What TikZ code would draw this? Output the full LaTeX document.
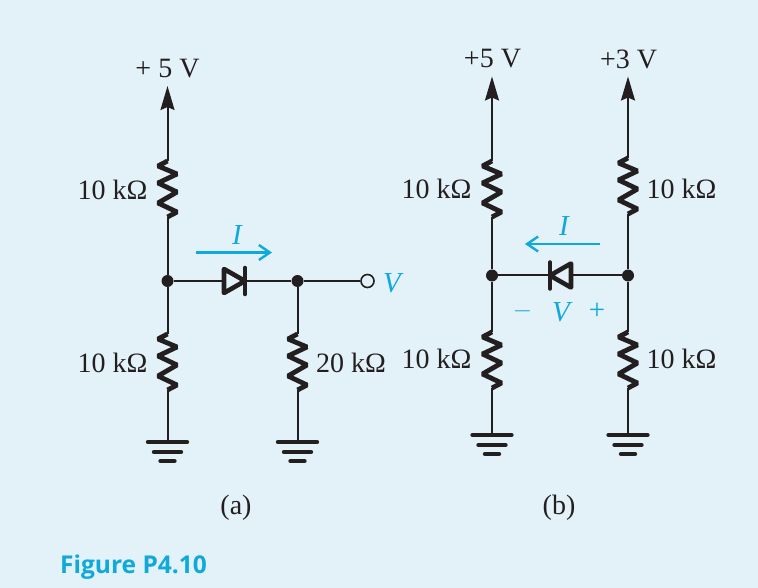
\documentclass[tikz,border=0pt]{standalone}
\usepackage{fontspec}
\setmainfont{Liberation Serif}
\newfontfamily\figfont{Open Sans}
\usetikzlibrary{arrows.meta}
\definecolor{bgblue}{HTML}{E3F2F8}
\definecolor{inkblack}{HTML}{231F20}
\definecolor{cyanlabel}{HTML}{0FA9DC}

\begin{document}
\begin{tikzpicture}[x=1pt, y=-1pt,
        wire/.style={draw=inkblack, line width=2pt},
        supply/.style={wire, -{Stealth[length=24pt, width=14pt, inset=3pt]}},
        dot/.style={circle, fill=inkblack, inner sep=0pt, minimum size=12pt},
        lbl/.style={text=inkblack, font=\fontsize{28}{30}\selectfont, inner sep=0pt},
        bluelbl/.style={text=cyanlabel, font=\fontsize{29}{30}\selectfont\itshape, inner sep=0pt},
        current/.style={draw=cyanlabel, line width=2.4pt, -{Straight Barb[length=11pt, width=15pt, line width=2.4pt]}},
        pics/res/.style={code={
            \coordinate (-top) at (0,0);
            \coordinate (-bot) at (0,56);
            \draw[inkblack, line width=4.8pt, line join=miter, miter limit=2]
                (0,0) -- (-9.5,5) -- (9.5,13) -- (-9.5,22) -- (9.5,31) -- (-9.5,42) -- (9.5,51) -- (0,56);
        }},
        pics/gnd/.style={code={
            \coordinate (-top) at (0,0);
            \draw[inkblack, line width=4.4pt, line cap=round] (-19.5,0) -- (19.5,0);
            \draw[inkblack, line width=4.4pt, line cap=round] (-13.5,10) -- (13.5,10);
            \draw[inkblack, line width=4.4pt, line cap=round] (-7,19) -- (7,19);
        }},
        pics/diode/.style={code={
            \coordinate (-in) at (-10.5,0);
            \coordinate (-out) at (10.5,0);
            \draw[inkblack, line width=4.6pt, line join=round] (-10.5,-12) -- (10.5,0) -- (-10.5,12) -- cycle;
            \draw[inkblack, line width=4.6pt, line cap=round] (10.5,-13) -- (10.5,13);
        }}]
        \fill[bgblue] (0,0) rectangle (758,588);

        % circuit (a)
        \node[lbl] (supplyA) at (167.5,69) {+ 5 V};
        \coordinate (tipA) at (167.5,86);
        \pic (r1) at (167.5,161) {res};
        \node[dot] (j1) at (167.5,281) {};
        \pic (d1) at (234.5,281) {diode};
        \node[dot] (j2) at (297.5,281) {};
        \node[draw=inkblack, circle, line width=1.6pt, fill=none, inner sep=0pt, minimum size=13pt] (out) at (367.5,281) {};
        \node[bluelbl] (outlbl) at (392,283) {V};
        \pic (r2) at (167.5,334) {res};
        \pic (r3) at (297.5,334) {res};
        \pic (g1) at (167.5,442) {gnd};
        \pic (g2) at (297.5,442) {gnd};
        \node[lbl] (r1lbl) at (112.5,190) {10 kΩ};
        \node[lbl] (r2lbl) at (112.5,363) {10 kΩ};
        \node[lbl] (r3lbl) at (351,363) {20 kΩ};
        \node[bluelbl] (ilblA) at (237,235) {I};
        \coordinate (iA1) at (196,252.5);
        \coordinate (iA2) at (272,252.5);
        \node[lbl] (capA) at (236,508) {(a)};

        \draw[supply] (r1-top) -- (tipA);
        \draw[wire] (r1-bot) -- (j1);
        \draw[wire] (j1) -- (r2-top);
        \draw[wire] (r2-bot) -- (g1-top);
        \draw[wire] (j1) -- (d1-in);
        \draw[wire] (d1-out) -- (j2);
        \draw[wire] (j2) -- (out);
        \draw[wire] (j2) -- (r3-top);
        \draw[wire] (r3-bot) -- (g2-top);
        \draw[current] (iA1) -- (iA2);

        % circuit (b)
        \node[lbl] (supplyB) at (492.5,59) {+5 V};
        \node[lbl] (supplyC) at (628.5,59) {+3 V};
        \coordinate (tipB) at (492,76.5);
        \coordinate (tipC) at (628,76.5);
        \pic (r4) at (492,161) {res};
        \pic (r5) at (628,158) {res};
        \node[dot] (j3) at (492,275.5) {};
        \node[dot] (j4) at (628,275.5) {};
        \pic[rotate=180] (d2) at (560.5,275.5) {diode};
        \pic (r6) at (492,332) {res};
        \pic (r7) at (628,332) {res};
        \pic (g3) at (492,435) {gnd};
        \pic (g4) at (628,435) {gnd};
        \node[lbl] (r4lbl) at (436.5,189) {10 kΩ};
        \node[lbl] (r5lbl) at (681.5,189) {10 kΩ};
        \node[lbl] (r6lbl) at (436.5,359) {10 kΩ};
        \node[lbl] (r7lbl) at (681.5,359) {10 kΩ};
        \node[bluelbl] (ilblB) at (564,226) {I};
        \coordinate (iB1) at (600,244);
        \coordinate (iB2) at (525,244);
        \node[bluelbl, font=\fontsize{29}{30}\selectfont] (minus) at (522.5,311) {$-$};
        \node[bluelbl] (vlbl) at (561,312) {V};
        \node[bluelbl, font=\fontsize{29}{30}\selectfont] (plus) at (597,311) {+};
        \node[lbl] (capB) at (559,508) {(b)};

        \draw[supply] (r4-top) -- (tipB);
        \draw[supply] (r5-top) -- (tipC);
        \draw[wire] (r4-bot) -- (j3);
        \draw[wire] (r5-bot) -- (j4);
        \draw[wire] (j3) -- (r6-top);
        \draw[wire] (j4) -- (r7-top);
        \draw[wire] (r6-bot) -- (g3-top);
        \draw[wire] (r7-bot) -- (g4-top);
        \draw[wire] (j3) -- (d2-out);
        \draw[wire] (d2-in) -- (j4);
        \draw[current] (iB1) -- (iB2);

        \node[text=cyanlabel, font=\figfont\bfseries\fontsize{24.5}{26}\selectfont, inner sep=0pt, anchor=west] (figlbl) at (60,567) {Figure P4.10};
    \end{tikzpicture}
\end{document}
